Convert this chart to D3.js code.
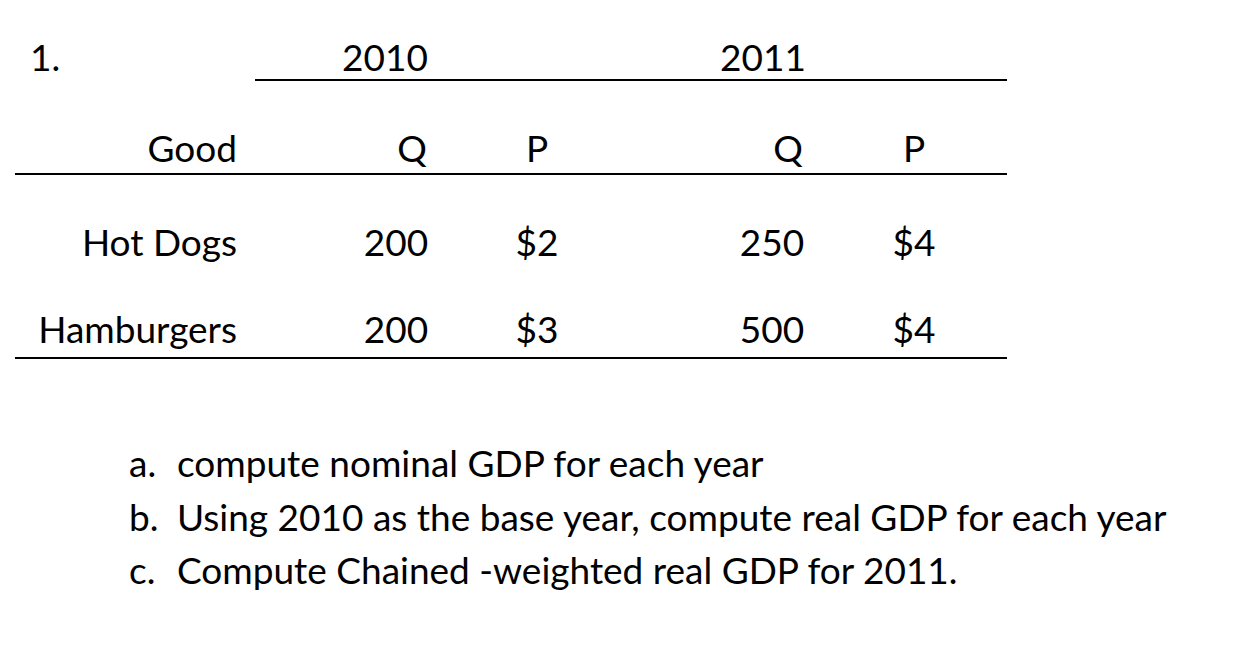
<!doctype html>
<html lang="en">
<head>
<meta charset="UTF-8" />
<title>GDP Table</title>
<script src="https://cdn.jsdelivr.net/npm/d3@7"></script>
<style>
  body { margin: 0; background: #fff; }
  text { font-family: Lato, "Noto Sans", sans-serif; fill: #000; }
</style>
</head>
<body>
<div id="app"></div>
<script>
const years = ['2010', '2011']
const columns = ['Q', 'P', 'Q', 'P']
const goods = ['Hot Dogs', 'Hamburgers']
const quantities2010 = [200, 200]
const prices2010 = [2, 3]
const quantities2011 = [250, 500]
const prices2011 = [4, 4]
const questions = [
    ['a.', 'compute nominal GDP for each year'],
    ['b.', 'Using 2010 as the base year, compute real GDP for each year'],
    ['c.', 'Compute Chained -weighted real GDP for 2011.'],
]

const width = 1246, height = 668
const svg = d3.select('#app').append('svg')
    .attr('width', width).attr('height', height)

const fs = 37
// column centres
const colX = d3.scaleOrdinal().domain([0, 1, 2, 3]).range([396, 537, 772, 914])
const yearX = d3.scaleOrdinal().domain(years).range([385, 763])
const rowY = d3.scaleOrdinal().domain(goods).range([256, 343])

svg.append('text').attr('x', 30).attr('y', 71).attr('font-size', fs).text('1.')

svg.selectAll('.year').data(years).join('text')
    .attr('x', d => yearX(d)).attr('y', 71)
    .attr('text-anchor', 'middle').attr('font-size', fs).text(d => d)

const line = (x1, x2, y) => svg.append('line')
    .attr('x1', x1).attr('x2', x2).attr('y1', y).attr('y2', y)
    .attr('stroke', '#000').attr('stroke-width', 2)
line(255, 1007, 80)
line(15, 1007, 174)
line(15, 1007, 358)

svg.append('text').attr('x', 237).attr('y', 162)
    .attr('text-anchor', 'end').attr('font-size', fs).text('Good')

svg.selectAll('.col').data(columns).join('text')
    .attr('x', (d, i) => colX(i) + (d === 'Q' ? 16 : 0)).attr('y', 162)
    .attr('text-anchor', 'middle').attr('font-size', fs).text(d => d)

goods.forEach((g, r) => {
    const y = rowY(g)
    svg.append('text').attr('x', 237).attr('y', y)
        .attr('text-anchor', 'end').attr('font-size', fs).text(g)
    const vals = [quantities2010[r], '$' + prices2010[r], quantities2011[r], '$' + prices2011[r]]
    svg.selectAll('.v' + r).data(vals).join('text')
        .attr('x', (d, i) => colX(i)).attr('y', y)
        .attr('text-anchor', 'middle').attr('font-size', fs).text(d => d)
})

const qY = d3.scalePoint().domain(d3.range(questions.length)).range([477, 584])
questions.forEach(([lab, txt], i) => {
    svg.append('text').attr('x', 129).attr('y', qY(i)).attr('font-size', fs).text(lab)
    svg.append('text').attr('x', 177).attr('y', qY(i)).attr('font-size', fs).text(txt)
})
</script>
</body>
</html>
